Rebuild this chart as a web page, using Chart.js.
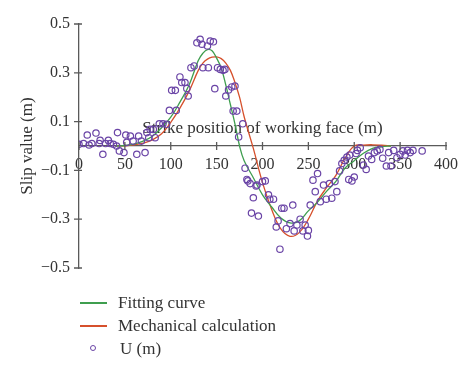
<!DOCTYPE html>
<html>
<head>
<meta charset="utf-8">
<script src="https://cdn.jsdelivr.net/npm/chart.js@4"></script>
<style>
  body { margin: 0; background: #fff; }
  #wrap { position: relative; width: 474px; height: 372px; }
  .legend { position: absolute; left: 0; top: 0; font: 17px "Liberation Serif", serif; color: #333; }
  .item { position: absolute; white-space: nowrap; }
  .swatch { position: absolute; height: 1.5px; }
</style>
</head>
<body>
<div id="wrap">
  <canvas id="slipChart" width="474" height="372"></canvas>
  <div class="legend">
    <div class="swatch" style="left:80px;top:302px;width:27px;background:#3f9e4f"></div>
    <div class="item" style="left:118px;top:293px">Fitting curve</div>
    <div class="swatch" style="left:80px;top:325px;width:27px;background:#d6502c"></div>
    <div class="item" style="left:118px;top:316px">Mechanical calculation</div>
    <div class="swatch" style="left:90px;top:345px;width:4px;height:4px;border:1.2px solid #6a44a6;border-radius:50%"></div>
    <div class="item" style="left:120px;top:339px">U (m)</div>
  </div>
</div>
<script>
/* Data */
const xTicks = [0, 50, 100, 150, 200, 250, 300, 350, 400];
const yTicks = [-0.5, -0.3, -0.1, 0.1, 0.3, 0.5];

const curveX = [40, 50, 60, 70, 80, 90, 100, 110, 120, 130, 135, 140, 145, 150, 155, 160, 165, 170, 175, 180, 190, 200, 210, 220, 230, 240, 250, 260, 270, 280, 290, 300, 310, 320, 330, 340];
const fittingCurve = [0, 0.002, 0.008, 0.02, 0.04, 0.075, 0.118, 0.18, 0.25, 0.35, 0.38, 0.395, 0.39, 0.36, 0.32, 0.25, 0.17, 0.09, 0.0, -0.06, -0.13, -0.2, -0.25, -0.295, -0.315, -0.307, -0.266, -0.23, -0.185, -0.145, -0.09, -0.06, -0.03, -0.01, -0.003, 0];
const mechanicalCalc = [0, 0.001, 0.005, 0.012, 0.025, 0.05, 0.097, 0.155, 0.225, 0.31, 0.34, 0.356, 0.364, 0.365, 0.358, 0.34, 0.31, 0.26, 0.2, 0.12, -0.01, -0.15, -0.26, -0.34, -0.37, -0.355, -0.3, -0.225, -0.17, -0.12, -0.05, 0, 0.004, 0.005, 0.003, 0];

const obsX = [0, 5, 9, 11, 14, 18.5, 22, 23, 26, 29, 32, 34, 37.5, 41, 42, 44, 49, 51, 52, 56, 59, 63, 65, 68, 72, 74, 76, 77.5, 81, 83, 87.5, 91.5, 95.5, 98.5, 101, 105, 106, 110, 112, 115.5, 117.5, 119, 122, 125.5, 128.5, 132, 134, 135, 140, 141, 143, 146.5, 148, 151, 154, 157, 159, 160, 163, 166.5, 168, 170, 172, 174, 178.5, 181, 183, 184, 186.5, 188, 190, 193, 194, 195.5, 200, 203, 206.5, 208, 212, 215, 217, 219, 221, 223.5, 226, 230, 233, 234.5, 237.5, 241, 244, 246.5, 249, 250, 252, 255, 257.5, 260, 263, 266.5, 269.5, 273, 275.5, 279, 281, 284, 286.5, 289, 292, 294, 295, 297.5, 300, 302, 303.5, 306.5, 310, 313, 315.5, 319, 322, 325, 328, 331, 335, 337.5, 340, 343, 346.5, 350, 353, 355.5, 358, 361, 364, 374];
const obsU = [0.007, 0.01, 0.045, 0.004, 0.01, 0.053, 0.01, 0.023, -0.034, 0.01, 0.023, 0.01, 0.007, 0, 0.055, -0.02, -0.027, 0.045, 0.015, 0.041, 0.02, -0.034, 0.041, 0.02, -0.027, 0.055, 0.034, 0.068, 0.068, 0.034, 0.091, 0.091, 0.089, 0.146, 0.228, 0.228, 0.146, 0.283, 0.26, 0.26, 0.236, 0.205, 0.321, 0.328, 0.423, 0.437, 0.417, 0.321, 0.41, 0.321, 0.43, 0.427, 0.235, 0.321, 0.314, 0.31, 0.314, 0.205, 0.23, 0.242, 0.143, 0.246, 0.143, 0.037, 0.091, -0.091, -0.137, -0.143, -0.154, -0.275, -0.212, -0.164, -0.16, -0.287, -0.146, -0.143, -0.2, -0.218, -0.218, -0.332, -0.307, -0.423, -0.255, -0.255, -0.339, -0.318, -0.242, -0.348, -0.324, -0.3, -0.348, -0.324, -0.369, -0.346, -0.242, -0.14, -0.187, -0.113, -0.228, -0.16, -0.218, -0.154, -0.214, -0.146, -0.187, -0.102, -0.072, -0.059, -0.045, -0.137, -0.037, -0.143, -0.127, -0.031, -0.018, -0.007, -0.078, -0.096, -0.041, -0.055, -0.027, -0.02, -0.014, -0.05, -0.082, -0.027, -0.082, -0.018, -0.048, -0.034, -0.02, -0.037, -0.018, -0.027, -0.018, -0.02];

const SERIF = '"Liberation Serif", "Times New Roman", serif';
const AXIS_COLOR = '#5a5a5a';

function toPoints(xs, ys) {
    return xs.map((x, i) => ({ x: x, y: ys[i] }));
}

function fmtTick(v) {
    const s = Math.abs(v).toFixed(1);
    return v < 0 ? '\u2212' + s : s;
}

// crossing tick marks on both axes
const crossTicks = {
    id: 'crossTicks',
    afterDraw(chart) {
        const ctx = chart.ctx;
        const xs = chart.scales.x, ys = chart.scales.y;
        const y0 = ys.getPixelForValue(0);
        const x0 = xs.getPixelForValue(0);
        ctx.save();
        ctx.strokeStyle = AXIS_COLOR;
        ctx.lineWidth = 1.3;
        ctx.beginPath();
        xTicks.forEach(v => {
            const px = xs.getPixelForValue(v);
            ctx.moveTo(px, y0 - 4);
            ctx.lineTo(px, y0 + 4);
        });
        yTicks.forEach(v => {
            const py = ys.getPixelForValue(v);
            ctx.moveTo(x0 - 5, py);
            ctx.lineTo(x0 + 3, py);
        });
        ctx.stroke();
        ctx.restore();
    }
};

new Chart(document.getElementById('slipChart'), {
    type: 'scatter',
    data: {
        datasets: [
            {
                type: 'scatter',
                label: 'U (m)',
                data: toPoints(obsX, obsU),
                pointStyle: 'circle',
                pointRadius: 3.2,
                pointBorderWidth: 1.2,
                borderColor: '#6a44a6',
                backgroundColor: 'rgba(0,0,0,0)',
                order: 1
            },
            {
                type: 'line',
                label: 'Fitting curve',
                data: toPoints(curveX, fittingCurve),
                borderColor: '#3f9e4f',
                borderWidth: 1.3,
                pointRadius: 0,
                tension: 0.4,
                fill: false,
                order: 2
            },
            {
                type: 'line',
                label: 'Mechanical calculation',
                data: toPoints(curveX, mechanicalCalc),
                borderColor: '#d6502c',
                borderWidth: 1.3,
                pointRadius: 0,
                tension: 0.4,
                fill: false,
                order: 3
            }
        ]
    },
    options: {
        responsive: false,
        animation: false,
        layout: { padding: { left: 0, top: 24, right: 28, bottom: 104 } },
        plugins: {
            legend: { display: false },
            tooltip: { enabled: false }
        },
        scales: {
            x: {
                type: 'linear',
                min: 0,
                max: 400,
                position: { y: 0 },
                afterFit: (scale) => { scale.height = 0; },
                afterBuildTicks: (scale) => { scale.ticks = xTicks.map(v => ({ value: v })); },
                grid: { display: false },
                border: { display: true, color: AXIS_COLOR, width: 1.3 },
                ticks: {
                    padding: 1,
                    maxRotation: 0,
                    color: '#333',
                    font: { family: SERIF, size: 16 },
                    callback: (v) => String(v)
                },
                title: {
                    display: true,
                    text: 'Strike position of working face (m)',
                    color: '#333',
                    font: { family: SERIF, size: 17 },
                    padding: { top: 0, bottom: 7 }
                }
            },
            y: {
                type: 'linear',
                min: -0.5,
                max: 0.5,
                position: 'left',
                afterFit: (scale) => { scale.width = 79; },
                afterBuildTicks: (scale) => { scale.ticks = yTicks.map(v => ({ value: v })); },
                grid: { display: false },
                border: { display: true, color: AXIS_COLOR, width: 1.3 },
                ticks: {
                    padding: 1,
                    color: '#333',
                    font: { family: SERIF, size: 16 },
                    callback: (v) => fmtTick(v)
                },
                title: {
                    display: true,
                    text: 'Slip value (m)',
                    color: '#333',
                    font: { family: SERIF, size: 17 },
                    padding: { top: 17, bottom: 0 }
                }
            }
        }
    },
    plugins: [crossTicks]
});
</script>
</body>
</html>
